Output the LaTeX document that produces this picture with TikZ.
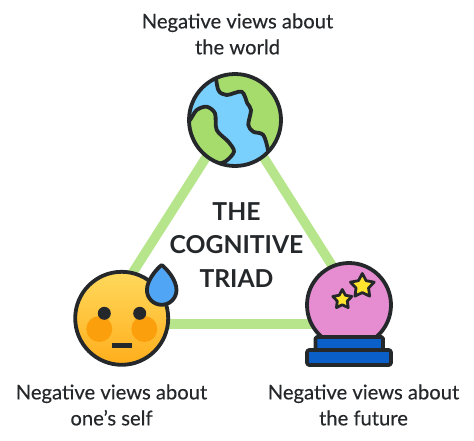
\documentclass[tikz,border=0pt]{standalone}
\usepackage{fontspec}
\setmainfont{Lato}
\newfontfamily\capfont{Lato}[FakeBold=0.35]
\usetikzlibrary{shapes.geometric}
\definecolor{inkdark}{HTML}{25282B}
\definecolor{armgreen}{HTML}{B6E58B}
\definecolor{landgreen}{HTML}{A6DC6C}
\definecolor{seablue}{HTML}{7AD0FD}
\definecolor{dropblue}{HTML}{50A5F5}
\definecolor{cheekorange}{HTML}{FC9F0C}
\definecolor{facetop}{HTML}{FFD95C}
\definecolor{facelow}{HTML}{FFAE1C}
\definecolor{ballpink}{HTML}{E58DD0}
\definecolor{baseblue}{HTML}{0A5FC9}
\definecolor{staryellow}{HTML}{FFE52E}
\tikzset{
  disc/.style={circle,draw=inkdark,line width=3.8pt,minimum size=#1,inner sep=0pt},
  arm/.style={armgreen,line width=9.5pt},
  outl/.style={draw=inkdark,line width=3.8pt,line join=round},
  capt/.style={font=\capfont\fontsize{20.2}{26}\selectfont,align=center,text=inkdark},
  ttl/.style={font=\fontsize{24.7}{33.5}\selectfont\bfseries,align=center,text=inkdark},
  twinkle/.style={star,star points=5,star point ratio=1.9,draw=inkdark,line width=2.8pt,
    fill=staryellow,line join=round,inner sep=0pt,minimum size=#1},
}

\begin{document}
\begin{tikzpicture}[x=1pt,y=-1pt]
  \useasboundingbox (0,0) rectangle (474,440);
  % triangle
  \coordinate (apex) at (235,112);
  \coordinate (lowl) at (100,324);
  \coordinate (lowr) at (369,324);
  \draw[arm] (apex) -- (lowl);
  \draw[arm] (apex) -- (lowr);
  \draw[arm] (lowl) -- (lowr);
  % world
  \node[circle,fill=seablue,minimum size=92pt,inner sep=0pt] (world) at (235,120) {};
  \begin{scope}
    \clip (235,120) circle (46pt);
    \draw[outl,fill=landgreen] plot[smooth] coordinates {(215,70) (218.3,90) (226.7,95) (241.7,91.7)
      (247.3,103.3) (251,110) (248.3,125) (253.3,131.7) (263.3,135) (268.3,151.7) (269,170)}
      -- (300,170) -- (300,60) -- cycle;
    \draw[outl,fill=landgreen] plot[smooth] coordinates {(185,124) (190,120) (196.7,110) (206.7,106.7)
      (215,113.3) (216.7,130) (228.3,141.7) (234,151.7) (225,161.7) (212,165)}
      -- (190,180) -- (170,130) -- cycle;
  \end{scope}
  \node[disc=92pt] (rim) at (world) {};
  % self
  \node[disc=93pt,top color=facetop,bottom color=facelow] (face) at (121.7,318.3) {};
  \fill[cheekorange] (99.3,329) circle (13pt) (144.3,329) circle (13pt);
  \fill[inkdark] (104.3,313.3) circle (6.5pt) (139.7,313.3) circle (6.5pt);
  \fill[inkdark] (111.7,343.3) rectangle (132.3,348.3);
  \draw[outl,fill=dropblue] (161.7,265) .. controls (167,269) and (176.5,280) .. (176.5,290)
    arc[start angle=0,end angle=-180,radius=14.8pt]
    .. controls (147,280) and (156.5,269) .. cycle;
  % future
  \node[disc=84pt,fill=ballpink] (ball) at (349,305) {};
  \node[twinkle=25pt] (bigstar) at (362.3,286) {};
  \node[twinkle=20pt] (smallstar) at (342.3,299.5) {};
  \draw[outl,fill=baseblue,rounded corners=1.5pt] (315.5,337) rectangle (383,350);
  \draw[outl,fill=baseblue,rounded corners=2.5pt] (307,350) rectangle (391,365);
  % labels
  \node[capt] (worldcap) at (237.5,34) {Negative views about\\the world};
  \node[capt] (selfcap) at (111.5,405) {Negative views about\\one’s self};
  \node[capt] (futurecap) at (363.5,405) {Negative views about\\the future};
  \node[ttl] (title) at (236.5,245) {THE\\COGNITIVE\\TRIAD};
\end{tikzpicture}
\end{document}
